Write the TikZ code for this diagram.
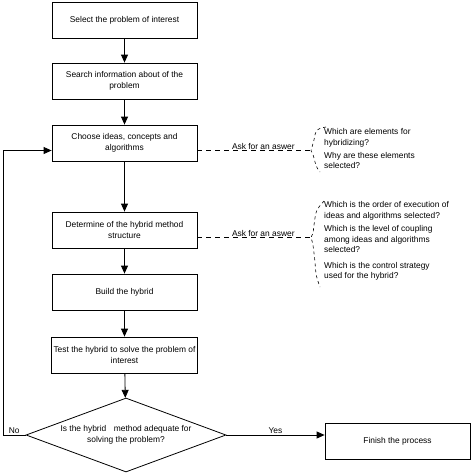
\documentclass[tikz,border=0pt]{standalone}
\usepackage{fontspec}
\setmainfont{Liberation Sans}
\usepackage{tikz}
\usetikzlibrary{shapes.geometric}
\usetikzlibrary{arrows.meta}

\begin{document}
\begin{tikzpicture}[
    x=1pt, y=-1pt,
    font=\fontsize{8.4}{10.5}\selectfont,
    box/.style={rectangle, draw, line width=0.8pt, minimum width=145pt, minimum height=36pt, align=center, inner sep=2pt},
    decision/.style={diamond, draw, line width=0.8pt, aspect=2.7, minimum width=200pt, minimum height=74pt, align=center, inner sep=0pt},
    note/.style={draw=none, inner sep=1pt},
    ask/.style={draw=none, align=left, anchor=west, inner sep=0pt},
    link/.style={dashed, line width=0.8pt, dash pattern=on 5pt off 4pt},
    >={Triangle[length=8pt, width=7pt]},
  ]

  \useasboundingbox (0,0) rectangle (474,474);

  \node[box] (S1) at (124.5, 20)  {Select the problem of interest};
  \node[box] (S2) at (124.5, 81)  {Search information about of the\\problem};
  \node[box] (S3) at (124.5, 143) {Choose ideas, concepts and\\algorithms};
  \node[box] (S4) at (124.5, 230) {Determine of the hybrid method\\structure};
  \node[box] (S5) at (124.5, 292) {Build the hybrid};
  \node[box] (S6) at (124.5, 355) {Test the hybrid to solve the problem of\\interest};
  \node[decision] (D) at (126, 435) {Is the hybrid\hspace{0.9em}method adequate for\\solving the problem?};
  \node[box] (F) at (397.5, 441) {Finish the process};

  % Questions
  \node[ask] (Q1) at (324, 148.5) {Which are elements for\\hybridizing?\\[2.5pt]Why are these elements\\selected?};
  \node[ask] (Q2) at (324, 241) {Which is the order of execution of\\ideas and algorithms selected?\\[3pt]Which is the level of coupling\\among ideas and algorithms\\selected?\\[5pt]Which is the control strategy\\used for the hybrid?};

  \coordinate (B1) at (311, 150.5);
  \coordinate (B2) at (311, 237.5);
  \coordinate (loop) at (3, 435);

  % Main flow
  \draw[->, line width=0.8pt] (S1) -- (S2);
  \draw[->, line width=0.8pt] (S2) -- (S3);
  \draw[->, line width=0.8pt] (S3) -- (S4);
  \draw[->, line width=0.8pt] (S4) -- (S5);
  \draw[->, line width=0.8pt] (S5) -- (S6);
  \draw[->, line width=0.8pt] (S6) -- (D);

  % Yes / No
  \draw[->, line width=0.8pt] (D.east) -- node[note, above] {Yes} (D.east -| F.west);
  \draw[->, line width=0.8pt] (D.west) -- node[note, above] {No} (loop) |- ([yshift=-7.5pt]S3.west);

  % Dashed links to the questions
  \draw[link] ([yshift=-7.5pt]S3.east) -- node[note, above, pos=0.58] {Ask for an aswer} (B1);
  \draw[link] ([yshift=-7.5pt]S4.east) -- node[note, above, pos=0.58] {Ask for an aswer} (B2);
  \draw[dashed, line width=0.6pt, dash pattern=on 3pt off 3pt] (326, 127) .. controls (316, 129) .. (314, 140) .. controls (313, 146) .. (B1) .. controls (313, 154) .. (315, 162) .. controls (317, 168) .. (320, 172);
  \draw[dashed, line width=0.6pt, dash pattern=on 3pt off 3pt] (324, 201) .. controls (316, 210) .. (314, 225) .. controls (313, 234) .. (B2) .. controls (313, 244) .. (315, 262) .. controls (316, 276) .. (320, 287);

\end{tikzpicture}
\end{document}
